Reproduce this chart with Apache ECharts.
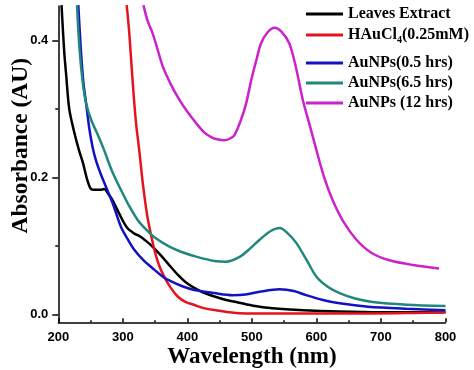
<!DOCTYPE html>
<html>
<head>
<meta charset="utf-8">
<script src="https://cdn.jsdelivr.net/npm/echarts@6/dist/echarts.min.js"></script>
<style>
    html, body { margin: 0; padding: 0; background: #fff; }
    #chart { width: 474px; height: 370px; }
</style>
</head>
<body>
<div id="chart"></div>
<script>
// UV-vis spectra, [wavelength (nm), absorbance (AU)]
var leavesExtract = [
    [205, 0.452], [209, 0.386], [212, 0.352], [217, 0.300], [225, 0.265], [232, 0.240],
    [238, 0.222], [245, 0.196], [250, 0.184], [255, 0.182], [265, 0.182], [271, 0.183],
    [278, 0.175], [284, 0.167], [295, 0.146], [307, 0.126], [318, 0.118], [328, 0.113],
    [340, 0.104], [349, 0.096], [360, 0.085], [370, 0.074], [385, 0.058], [400, 0.045],
    [420, 0.034], [442, 0.026], [460, 0.021], [480, 0.017], [500, 0.013], [532, 0.009],
    [580, 0.006], [636, 0.004], [700, 0.003], [800, 0.003]
];
var hauCl4 = [
    [306, 0.452], [310, 0.411], [315, 0.343], [320, 0.284], [326, 0.235], [331, 0.191],
    [338, 0.143], [344, 0.115], [349, 0.094], [356, 0.072], [364, 0.055], [374, 0.039],
    [385, 0.026], [397, 0.018], [411, 0.0136], [425, 0.009], [442, 0.0063], [480, 0.0015],
    [550, 0.001], [650, 0.001], [750, 0.002], [800, 0.003]
];
var auNps05 = [
    [231, 0.452], [235, 0.386], [239, 0.338], [243, 0.309], [248, 0.272], [253, 0.245],
    [258, 0.226], [265, 0.207], [274, 0.186], [284, 0.163], [297, 0.128], [308, 0.109],
    [318, 0.094], [333, 0.078], [349, 0.065], [362, 0.055], [375, 0.048], [392, 0.041],
    [411, 0.0355], [442, 0.031], [470, 0.028], [490, 0.029], [512, 0.033], [543, 0.0365],
    [565, 0.034], [584, 0.028], [610, 0.021], [636, 0.016], [680, 0.011], [740, 0.008],
    [800, 0.006]
];
var auNps65 = [
    [229, 0.452], [233, 0.386], [238, 0.338], [243, 0.309], [251, 0.284], [260, 0.265],
    [271, 0.240], [283, 0.210], [297, 0.182], [310, 0.158], [323, 0.138], [336, 0.124],
    [349, 0.1125], [370, 0.100], [390, 0.0915], [415, 0.084], [442, 0.078], [460, 0.077],
    [481, 0.084], [497, 0.096], [512, 0.109], [528, 0.121], [543, 0.126], [556, 0.118],
    [569, 0.104], [585, 0.079], [600, 0.055], [618, 0.040], [636, 0.031], [660, 0.023],
    [687, 0.018], [740, 0.014], [800, 0.012]
];
var auNps12 = [
    [332, 0.452], [338, 0.430], [346, 0.411], [353, 0.390], [362, 0.362], [375, 0.335],
    [388, 0.313], [400, 0.296], [414, 0.279], [426, 0.266], [439, 0.258], [448, 0.2555],
    [457, 0.2545], [466, 0.257], [473, 0.262], [483, 0.284], [491, 0.308], [499, 0.3425],
    [507, 0.372], [514, 0.396], [525, 0.413], [535, 0.419], [545, 0.414], [558, 0.396],
    [568, 0.362], [579, 0.313], [590, 0.275], [600, 0.240], [612, 0.200], [625, 0.167],
    [642, 0.135], [662, 0.109], [685, 0.090], [713, 0.079], [750, 0.072], [790, 0.067]
];

var seriesNames = ['Leaves Extract', 'HAuCl4(0.25mM)', 'AuNPs(0.5 hrs)', 'AuNPs(6.5 hrs)', 'AuNPs (12 hrs)'];
var seriesColors = ['#000000', '#e3141c', '#1212c4', '#1f877b', '#cc22cc'];
var seriesData = [leavesExtract, hauCl4, auNps05, auNps65, auNps12];

var yMajorTicks = [0, 0.2, 0.4];
var yMinorTicks = [0.1, 0.3];

var chart = echarts.init(document.getElementById('chart'));

var legendText = {
    fontFamily: 'Liberation Serif',
    fontWeight: 'bold',
    fontSize: 16,
    color: '#000',
    lineHeight: 18,
    rich: {
        sub: {
            fontFamily: 'Liberation Serif',
            fontWeight: 'bold',
            fontSize: 10,
            padding: [10, 0, 0, 0]
        }
    }
};
var legendFormatter = function (name) {
    return name.replace('Cl4', 'Cl{sub|4}');
};

var option = {
    animation: false,
    grid: {
        left: 58.3,
        right: 28.5,
        top: 6,
        bottom: 47.7,
        outerBoundsMode: 'none',
        containLabel: false
    },
    legend: [{
        data: seriesNames.slice(0, 2),
        orient: 'vertical',
        left: 306,
        top: 5,
        padding: 0,
        icon: 'rect',
        itemWidth: 37,
        itemHeight: 3,
        itemGap: 3,
        textStyle: legendText,
        formatter: legendFormatter
    }, {
        data: seriesNames.slice(2),
        orient: 'vertical',
        left: 306,
        top: 54,
        padding: 0,
        icon: 'rect',
        itemWidth: 37,
        itemHeight: 3,
        itemGap: 2,
        textStyle: legendText
    }],
    xAxis: {
        type: 'value',
        min: 200,
        max: 800,
        interval: 100,
        name: 'Wavelength (nm)',
        nameLocation: 'middle',
        nameGap: 23,
        nameMoveOverlap: false,
        nameTextStyle: {
            fontFamily: 'Liberation Serif',
            fontWeight: 'bold',
            fontSize: 23,
            color: '#000'
        },
        axisLine: { onZero: false, lineStyle: { color: '#000', width: 1.5 } },
        axisTick: { inside: true, length: 4, lineStyle: { color: '#000', width: 1.5 } },
        minorTick: { show: true, splitNumber: 2, length: 2, lineStyle: { color: '#000', width: 1.5 } },
        axisLabel: {
            margin: 9,
            fontFamily: 'Liberation Sans',
            fontWeight: 'bold',
            fontSize: 13,
            color: '#000'
        },
        splitLine: { show: false }
    },
    yAxis: [{
        type: 'value',
        min: -0.0117,
        max: 0.4507,
        name: 'Absorbance (AU)',
        nameLocation: 'middle',
        nameGap: 25,
        nameMoveOverlap: false,
        nameTextStyle: {
            fontFamily: 'Liberation Serif',
            fontWeight: 'bold',
            fontSize: 23.5,
            color: '#000',
            padding: [0, 0, 0, 37]
        },
        axisLine: { show: true, onZero: false, lineStyle: { color: '#000', width: 1.5 } },
        axisTick: { show: true, length: 6, customValues: yMajorTicks, lineStyle: { color: '#000', width: 1.5 } },
        axisLabel: {
            margin: 10,
            customValues: yMajorTicks,
            formatter: function (v) { return v.toFixed(1); },
            fontFamily: 'Liberation Sans',
            fontWeight: 'bold',
            fontSize: 13,
            color: '#000'
        },
        splitLine: { show: false }
    }, {
        type: 'value',
        position: 'left',
        min: -0.0117,
        max: 0.4507,
        axisLine: { show: false, onZero: false },
        axisTick: { show: true, length: 3, customValues: yMinorTicks, lineStyle: { color: '#000', width: 1.5 } },
        axisLabel: { show: false },
        splitLine: { show: false }
    }],
    series: seriesNames.map(function (name, i) {
        return {
            name: name,
            type: 'line',
            data: seriesData[i],
            smooth: 0.3,
            symbol: 'none',
            clip: true,
            color: seriesColors[i],
            lineStyle: { width: 2.5, color: seriesColors[i] }
        };
    })
};

chart.setOption(option);
</script>
</body>
</html>
